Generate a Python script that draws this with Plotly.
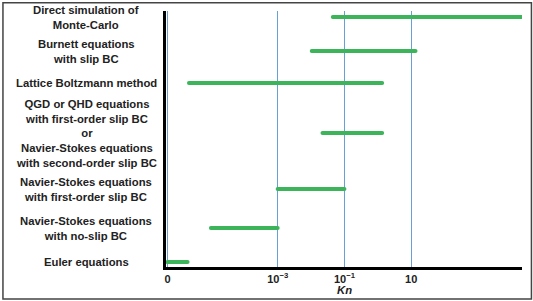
import plotly.graph_objects as go

# ---------------- data ----------------
methods = [
    "Direct simulation of<br>Monte-Carlo",
    "Burnett equations<br>with slip BC",
    "Lattice Boltzmann method",
    "QGD or QHD equations<br>with first-order slip BC<br>or<br>Navier-Stokes equations<br>with second-order slip BC",
    "Navier-Stokes equations<br>with first-order slip BC",
    "Navier-Stokes equations<br>with no-slip BC",
    "Euler equations",
]
KN_ZERO = 10 ** -6.3  # where "0" sits on the (broken) log axis
kn_start = [0.045, 0.0105, 2.2e-6, 0.022, 0.001, 1.0e-5, KN_ZERO]
kn_end = [2.0e4, 13.5, 1.35, 1.35, 0.1, 0.001, 2.0e-6]
tick_vals = [KN_ZERO, 1e-3, 1e-1, 10]
tick_text = ["0", "10<sup>−3</sup>", "10<sup>−1</sup>", "10"]
axis_title = "Kn"

# ---------------- layout config ----------------
row_pos = [6, 40, 72, 122, 178, 217, 251]  # vertical row slots (top to bottom)
GREEN = "#3cb55a"
BLUE = "#6a9fd6"
FONT = "Liberation Sans, Arial, sans-serif"

fig = go.Figure()
for name, a, b, yy in zip(methods, kn_start, kn_end, row_pos):
    fig.add_trace(go.Scatter(
        x=[a, b], y=[yy, yy], mode="lines+markers",
        line=dict(color=GREEN, width=4),
        marker=dict(color=GREEN, size=4),
        hoverinfo="skip", showlegend=False,
    ))

for name, yy in zip(methods, row_pos):
    fig.add_annotation(
        x=-0.224, xref="paper", y=yy, yref="y",
        text="<b>" + name + "</b>", showarrow=False,
        xanchor="center", yanchor="middle", align="center",
        font=dict(family=FONT, size=11.3, color="#222222"),
    )

# axis title
fig.add_annotation(
    x=0.5, xref="paper", y=-0.09, yref="paper",
    text="<b><i>" + axis_title + "</i></b>", showarrow=False,
    xanchor="center", yanchor="middle",
    font=dict(family=FONT, size=11.3, color="#222222"),
)

# outer frame
fig.add_shape(type="rect", xref="paper", yref="paper",
              x0=-0.458, x1=1.0265, y0=-0.125, y1=1.032,
              line=dict(color="#444444", width=1.5), layer="above")

fig.update_layout(
    width=533, height=301,
    margin=dict(l=166, r=11, t=11, b=34, autoexpand=False),
    paper_bgcolor="white", plot_bgcolor="white",
    font=dict(family=FONT, size=11, color="#222222"),
    xaxis=dict(
        type="log", range=[-6.345, 4.32], automargin=False,
        tickvals=tick_vals, ticktext=["<b>" + t + "</b>" for t in tick_text],
        showgrid=True, gridcolor=BLUE, gridwidth=1,
        showline=True, linecolor="black", linewidth=2.5,
        ticks="", zeroline=False, ticklabelstandoff=0,
        tickfont=dict(family=FONT, size=11, color="#222222"),
    ),
    yaxis=dict(
        range=[256, 0], showgrid=False, zeroline=False, automargin=False,
        showticklabels=False, ticks="",
        showline=True, linecolor="black", linewidth=2.5,
    ),
)

fig.write_html("out.html", config={"displayModeBar": False},
               post_script="document.body.style.margin='0';document.body.style.overflow='hidden';")
